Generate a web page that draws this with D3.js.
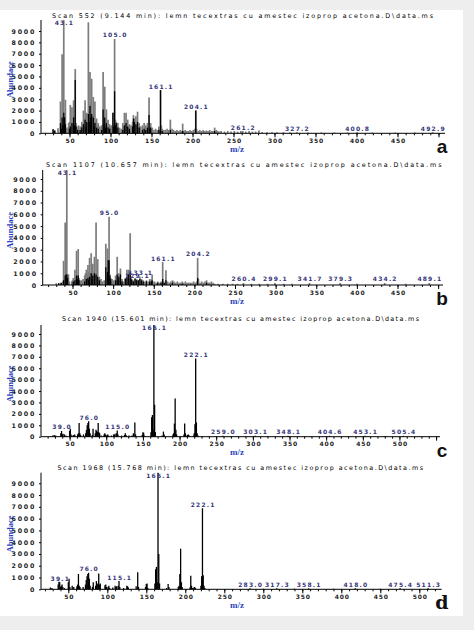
<!DOCTYPE html>
<html>
<head>
<meta charset="utf-8">
<script src="https://cdnjs.cloudflare.com/ajax/libs/d3/7.8.5/d3.min.js"></script>
<style>
body { margin: 0; background: #eeeeee; }
svg { display: block; }
</style>
</head>
<body>
<svg width="474" height="630"></svg>
<script>
// spectra: [m/z, abundance]
var aGray = [[30,350],[32,250],[36,450],[39,2800],[40,600],[41,6950],[42,1500],[43,9960],[44,1200],[45,2950],[46,400],[47,500],[49,900],[50,1000],[51,2500],[52,800],[53,2300],[54,900],[55,2900],[56,1500],[57,5650],[58,900],[59,600],[60,400],[61,700],[62,300],[63,600],[65,1000],[66,800],[67,2000],[68,1300],[69,2900],[70,1600],[71,1800],[72,900],[73,9760],[74,2000],[75,5400],[76,2600],[77,4800],[78,1500],[79,3200],[80,1200],[81,2800],[82,1000],[83,1300],[84,700],[85,900],[86,400],[87,600],[89,700],[90,500],[91,5400],[92,1200],[93,4100],[94,800],[95,2100],[96,700],[97,1200],[98,600],[99,800],[100,500],[101,700],[102,400],[103,1800],[104,900],[105,8300],[106,1200],[107,1000],[108,600],[109,900],[110,400],[111,500],[113,400],[115,900],[116,600],[117,1800],[118,700],[119,1800],[120,600],[121,1200],[122,500],[123,800],[124,400],[125,700],[126,500],[127,1000],[128,1600],[129,1300],[130,600],[131,1500],[132,700],[133,1900],[134,500],[135,900],[136,400],[137,600],[139,700],[141,900],[142,400],[143,700],[145,900],[146,600],[147,3150],[148,800],[149,900],[150,400],[151,500],[153,300],[155,400],[157,300],[159,600],[160,400],[161,3800],[162,700],[163,400],[165,300],[167,300],[169,400],[171,300],[173,1200],[175,400],[177,300],[179,200],[181,300],[183,200],[185,300],[187,200],[188,850],[189,200],[191,300],[193,200],[195,200],[197,300],[199,200],[201,300],[203,400],[204,2000],[205,400],[207,200],[209,300],[211,200],[213,300],[215,200],[217,250],[219,200],[221,300],[223,200],[225,200],[227,500],[229,300],[231,200],[233,150],[235,200],[239,150],[243,200],[247,150],[251,200],[255,150],[259,200],[261.2,200],[265,150],[269,200],[273,150],[277,150],[281,250],[285,100],[291,100],[297,100],[303,100],[311,100],[319,100],[327.2,100],[341,80],[357,80],[373,80],[389,80],[400.8,100],[419,80],[447,80],[471,80],[492.9,100]]
var aBlack = [[30,350],[32,250],[39,900],[40,400],[41,1400],[42,700],[43,1800],[44,1400],[45,800],[50,400],[51,600],[53,900],[55,1400],[56,700],[57,4700],[58,600],[60,300],[63,300],[65,500],[67,800],[69,1200],[70,600],[71,1000],[73,1700],[74,1000],[75,2400],[76,1400],[77,1700],[79,1400],[80,600],[81,900],[83,500],[85,400],[89,300],[91,2100],[92,800],[93,1400],[94,500],[95,900],[97,500],[99,400],[103,1800],[104,600],[105,3700],[106,700],[107,900],[109,500],[115,300],[117,700],[119,900],[121,600],[123,400],[127,600],[128,1300],[129,1000],[131,800],[133,1000],[135,500],[139,300],[141,400],[143,300],[145,500],[147,1600],[148,400],[149,500],[159,300],[161,3800],[163,200],[173,300],[188,200],[204,2000],[227,200]]
var aLabels = [[43.1,'43.1'],[105.0,'105.0'],[161.1,'161.1'],[204.1,'204.1'],[261.2,'261.2'],[327.2,'327.2'],[400.8,'400.8'],[492.9,'492.9']]

var bGray = [[30,150],[33,150],[36,200],[38,300],[39,2050],[40,500],[41,5300],[42,1100],[43,9760],[44,900],[45,900],[46,300],[49,300],[50,400],[51,600],[52,300],[53,1300],[54,700],[55,2900],[56,800],[57,3050],[58,600],[59,400],[60,300],[61,400],[62,300],[63,500],[65,800],[66,1000],[67,1300],[68,900],[69,1700],[70,1100],[71,2300],[72,1000],[73,2700],[74,1200],[75,1800],[76,1000],[77,2400],[78,900],[79,5300],[80,1000],[81,2200],[82,600],[83,700],[84,400],[85,500],[86,300],[87,300],[89,400],[90,300],[91,3500],[92,900],[93,3100],[94,700],[95,5800],[96,900],[97,600],[98,300],[99,500],[100,300],[101,400],[103,800],[104,500],[105,2400],[106,600],[107,1000],[108,500],[109,1400],[110,400],[111,500],[113,300],[115,600],[116,400],[117,1300],[118,500],[119,1300],[120,500],[121,4400],[122,600],[123,500],[124,300],[125,400],[127,600],[128,300],[129,500],[131,400],[133,700],[135,500],[137,400],[139,300],[141,400],[143,300],[145,500],[147,500],[148,900],[149,300],[151,300],[153,200],[155,300],[157,200],[159,300],[161,1950],[162,300],[165,1250],[167,300],[169,200],[171,300],[173,400],[175,300],[177,200],[179,300],[181,200],[183,200],[185,300],[187,200],[189,300],[191,200],[193,200],[195,200],[197,200],[199,300],[201,200],[203,300],[204,2300],[205,500],[207,200],[209,300],[211,200],[213,300],[215,400],[217,200],[219,200],[221,300],[223,200],[225,100],[229,100],[235,100],[241,100],[247,100],[253,100],[260.4,170],[270,100],[280,100],[290,100],[299.1,170],[310,100],[320,100],[341.7,170],[379.3,170],[400,100],[434.2,170],[460,100],[489.1,170]]
var bBlack = [[33,150],[36,200],[39,400],[41,800],[42,900],[43,900],[44,600],[51,300],[53,400],[55,800],[56,500],[57,800],[58,400],[65,300],[67,500],[69,600],[70,400],[71,700],[73,1000],[74,500],[75,800],[77,1000],[79,900],[81,700],[83,400],[91,1500],[93,1100],[94,2100],[95,2100],[96,800],[97,500],[103,400],[105,900],[106,400],[107,700],[109,900],[111,300],[115,500],[117,600],[119,900],[121,1100],[122,500],[123,400],[125,300],[127,500],[129,400],[131,400],[133,500],[135,400],[137,300],[141,300],[145,300],[147,300],[148,400],[155,200],[159,200],[161,500],[163,200],[165,400],[173,200],[185,100],[204,600],[215,200]]
var bLabels = [[43.1,'43.1'],[95.0,'95.0'],[129.1,'129.1'],[133.1,'133.1'],[161.1,'161.1'],[204.2,'204.2'],[260.4,'260.4'],[299.1,'299.1'],[341.7,'341.7'],[379.3,'379.3'],[434.2,'434.2'],[489.1,'489.1']]

var cPeaks = [[27,100],[29,150],[31,100],[38,300],[39,500],[40,200],[41,250],[43,200],[45,100],[50,500],[51,700],[52,200],[55,150],[57,200],[61,200],[62,300],[63,1200],[64,300],[65,150],[69,200],[72,300],[73,600],[74,1000],[75,1200],[76,1350],[77,700],[78,300],[81,150],[82,700],[85,300],[86,600],[87,500],[88,400],[89,1200],[90,400],[91,300],[93,100],[97,200],[98,300],[99,200],[101,150],[102,200],[103,100],[107,100],[110,200],[111,150],[112,250],[114,300],[115,550],[116,200],[121,100],[125,150],[126,300],[127,150],[131,100],[135,100],[137,300],[139,1250],[140,200],[149,150],[150,400],[151,350],[152,100],[161,400],[162,1700],[163,1900],[164,600],[165,9790],[166,2800],[167,400],[176,100],[178,450],[179,200],[191,200],[192,300],[193,1150],[194,3350],[195,600],[196,200],[206,200],[207,1150],[208,300],[209,100],[211,150],[212,200],[213,100],[219,100],[220,300],[221,1100],[222,6850],[223,1250],[224,300],[225,100],[231,50],[259,80],[270,50],[290,50],[303.1,80],[320,50],[348.1,80],[380,50],[404.6,80],[430,50],[453.1,80],[480,50],[505.4,80]]
var cLabels = [[39.0,'39.0'],[76.0,'76.0'],[115.0,'115.0'],[165.1,'165.1'],[222.1,'222.1'],[259.0,'259.0'],[303.1,'303.1'],[348.1,'348.1'],[404.6,'404.6'],[453.1,'453.1'],[505.4,'505.4']]

var dPeaks = [[27,150],[29,100],[37,400],[38,650],[39,600],[40,200],[41,300],[42,400],[43,200],[45,100],[50,600],[51,900],[52,200],[55,300],[57,200],[61,250],[62,400],[63,1300],[64,300],[65,200],[69,200],[72,400],[73,800],[74,1100],[75,1300],[76,1400],[77,900],[78,300],[81,200],[82,600],[85,300],[86,700],[87,500],[88,400],[89,1350],[90,400],[91,500],[97,350],[98,400],[99,200],[101,200],[102,300],[103,100],[107,150],[110,300],[111,200],[112,250],[114,300],[115,700],[116,200],[121,100],[125,300],[126,250],[127,150],[137,250],[139,1450],[140,200],[149,200],[150,450],[151,500],[152,100],[161,500],[162,1700],[163,1900],[164,600],[165,9900],[166,3000],[167,500],[176,100],[178,450],[179,200],[191,200],[192,300],[193,1300],[194,3450],[195,600],[196,200],[206,150],[207,1150],[208,300],[209,100],[211,150],[212,200],[213,100],[220,300],[221,1100],[222,6880],[223,1200],[224,300],[225,100],[283.0,80],[300,50],[317.3,80],[340,50],[358.1,80],[390,50],[418.0,80],[450,50],[475.4,80],[511.3,80]]
var dLabels = [[39.1,'39.1'],[76.0,'76.0'],[115.1,'115.1'],[165.1,'165.1'],[222.1,'222.1'],[283.0,'283.0'],[317.3,'317.3'],[358.1,'358.1'],[418.0,'418.0'],[475.4,'475.4'],[511.3,'511.3']]

var titles = [
    'Scan 552 (9.144 min): lemn tecextras cu amestec izoprop acetona.D\\data.ms',
    'Scan 1107 (10.657 min): lemn tecextras cu amestec izoprop acetona.D\\data.ms',
    'Scan 1940 (15.601 min): lemn tecextras cu amestec izoprop acetona.D\\data.ms',
    'Scan 1968 (15.768 min): lemn tecextras cu amestec izoprop acetona.D\\data.ms'
]
var letters = ['a', 'b', 'c', 'd']
var yTicks = d3.range(0, 10000, 1000)
var lastXLabel = [450, 450, 500, 500]

// where each panel sits on the page
var layout = [
    { gray: aGray, black: aBlack, labels: aLabels, x0: 41, x1: 445, at50: 69.5, ppu: 0.82, base: 133.3, y9000: 31, top: 20, tx0: 52, tx1: 433, ty: 17.5 },
    { gray: bGray, black: bBlack, labels: bLabels, x0: 42.7, x1: 443, at50: 72.5, ppu: 0.8125, base: 285, y9000: 179, top: 170, tx0: 46, tx1: 441.5, ty: 167 },
    { gray: [], black: cPeaks, labels: cLabels, x0: 41, x1: 440, at50: 69.6, ppu: 0.733, base: 436.7, y9000: 334, top: 325, tx0: 62, tx1: 419, ty: 321 },
    { gray: [], black: dPeaks, labels: dLabels, x0: 41, x1: 441.7, at50: 68.3, ppu: 0.78, base: 589.3, y9000: 483.3, top: 472.7, tx0: 57.5, tx1: 423, ty: 469.5 }
]

var svg = d3.select('svg')
svg.append('rect').attr('x', 0).attr('y', 10).attr('width', 463).attr('height', 606).attr('fill', '#ffffff')

layout.forEach(function (p, i) {
    var mzLeft = 50 - (p.at50 - p.x0) / p.ppu
    var mzRight = 50 + (p.x1 - p.at50) / p.ppu
    var x = d3.scaleLinear().domain([mzLeft, mzRight]).range([p.x0, p.x1])
    var y = d3.scaleLinear().domain([0, 9000]).range([p.base, p.y9000])
    var g = svg.append('g')

    // title
    g.append('text')
        .attr('x', p.tx0).attr('y', p.ty)
        .attr('textLength', p.tx1 - p.tx0).attr('lengthAdjust', 'spacing')
        .style('font-family', 'DejaVu Sans').style('font-size', '6.4px')
        .style('fill', '#000')
        .text(titles[i])

    // bars
    g.append('g').selectAll('line')
        .data(p.gray)
        .enter()
        .append('line')
        .attr('x1', function (d) { return x(d[0]) }).attr('x2', function (d) { return x(d[0]) })
        .attr('y1', y(0)).attr('y2', function (d) { return y(d[1]) })
        .style('stroke', '#7c7c7c').style('stroke-width', 1.7)

    g.append('g').selectAll('line')
        .data(p.black)
        .enter()
        .append('line')
        .attr('x1', function (d) { return x(d[0]) }).attr('x2', function (d) { return x(d[0]) })
        .attr('y1', y(0)).attr('y2', function (d) { return y(d[1]) })
        .style('stroke', '#000').style('stroke-width', 1.3)

    // peak labels
    var all = p.gray.concat(p.black)
    g.append('g').selectAll('text')
        .data(p.labels)
        .enter()
        .append('text')
        .attr('x', function (d) { return x(d[0]) + 0.6 })
        .attr('y', function (d) {
            var best = all[0]
            all.forEach(function (q) { if (Math.abs(q[0] - d[0]) < Math.abs(best[0] - d[0]) || (Math.abs(q[0] - d[0]) === Math.abs(best[0] - d[0]) && q[1] > best[1])) best = q })
            return Math.max(y(best[1]) - 1.5, p.top + 5)
        })
        .attr('text-anchor', 'middle')
        .style('font-family', 'DejaVu Sans').style('font-weight', 'bold')
        .style('font-size', '6px').style('letter-spacing', '1.2px')
        .style('fill', '#35357a')
        .text(function (d) { return d[1] })

    // y axis
    var yAxis = g.append('g')
        .attr('transform', 'translate(' + p.x0 + ',0)')
        .call(d3.axisLeft(y).tickValues(yTicks).tickSize(2).tickPadding(1).tickFormat(d3.format('d')))
    yAxis.select('.domain').remove()
    yAxis.selectAll('text')
        .attr('dx', -1.8)
        .style('font-family', 'DejaVu Sans').style('font-weight', 'bold')
        .style('font-size', '6.3px').style('letter-spacing', '1.8px').style('fill', '#222')
    g.append('line')
        .attr('x1', p.x0).attr('x2', p.x0).attr('y1', p.top).attr('y2', p.base)
        .style('stroke', '#000').style('stroke-width', 1)

    // x axis
    var minor = d3.range(Math.ceil(mzLeft / 10) * 10, mzRight, 10)
    var xMinor = g.append('g')
        .attr('transform', 'translate(0,' + p.base + ')')
        .call(d3.axisBottom(x).tickValues(minor).tickSize(2).tickFormat(''))
    xMinor.select('.domain').remove()
    var xAxis = g.append('g')
        .attr('transform', 'translate(0,' + p.base + ')')
        .call(d3.axisBottom(x).tickValues(d3.range(50, mzRight, 50)).tickSize(4).tickPadding(1.5)
            .tickFormat(function (v) { return v <= lastXLabel[i] ? v : '' }))
    xAxis.select('.domain').remove()
    xAxis.selectAll('text')
        .attr('dx', 0.5)
        .style('font-family', 'DejaVu Sans').style('font-weight', 'bold')
        .style('font-size', '6px').style('letter-spacing', '0.9px').style('fill', '#222')
    g.append('line')
        .attr('x1', p.x0).attr('x2', p.x1).attr('y1', p.base).attr('y2', p.base)
        .style('stroke', '#000').style('stroke-width', 1)

    // axis titles
    g.append('text')
        .attr('transform', 'translate(13,' + ((p.top + p.base) / 2 + 3) + ') rotate(-90)')
        .attr('text-anchor', 'middle')
        .style('font-family', 'Liberation Serif').style('font-weight', 'bold')
        .style('font-size', '8.5px').style('fill', '#2a3fc0')
        .text('Abundace')
    g.append('text')
        .attr('x', 237).attr('y', p.base + 18.5)
        .attr('text-anchor', 'middle')
        .style('font-family', 'Liberation Serif').style('font-weight', 'bold')
        .style('font-size', '9px').style('fill', '#2a3fc0')
        .text('m/z')

    // panel letter
    g.append('text')
        .attr('x', 442).attr('y', p.base + 20)
        .attr('text-anchor', 'middle')
        .style('font-family', i === 3 ? 'DejaVu Serif' : 'Liberation Sans').style('font-weight', 'bold')
        .style('font-size', '19px').style('fill', '#111')
        .text(letters[i])
})
</script>
</body>
</html>
